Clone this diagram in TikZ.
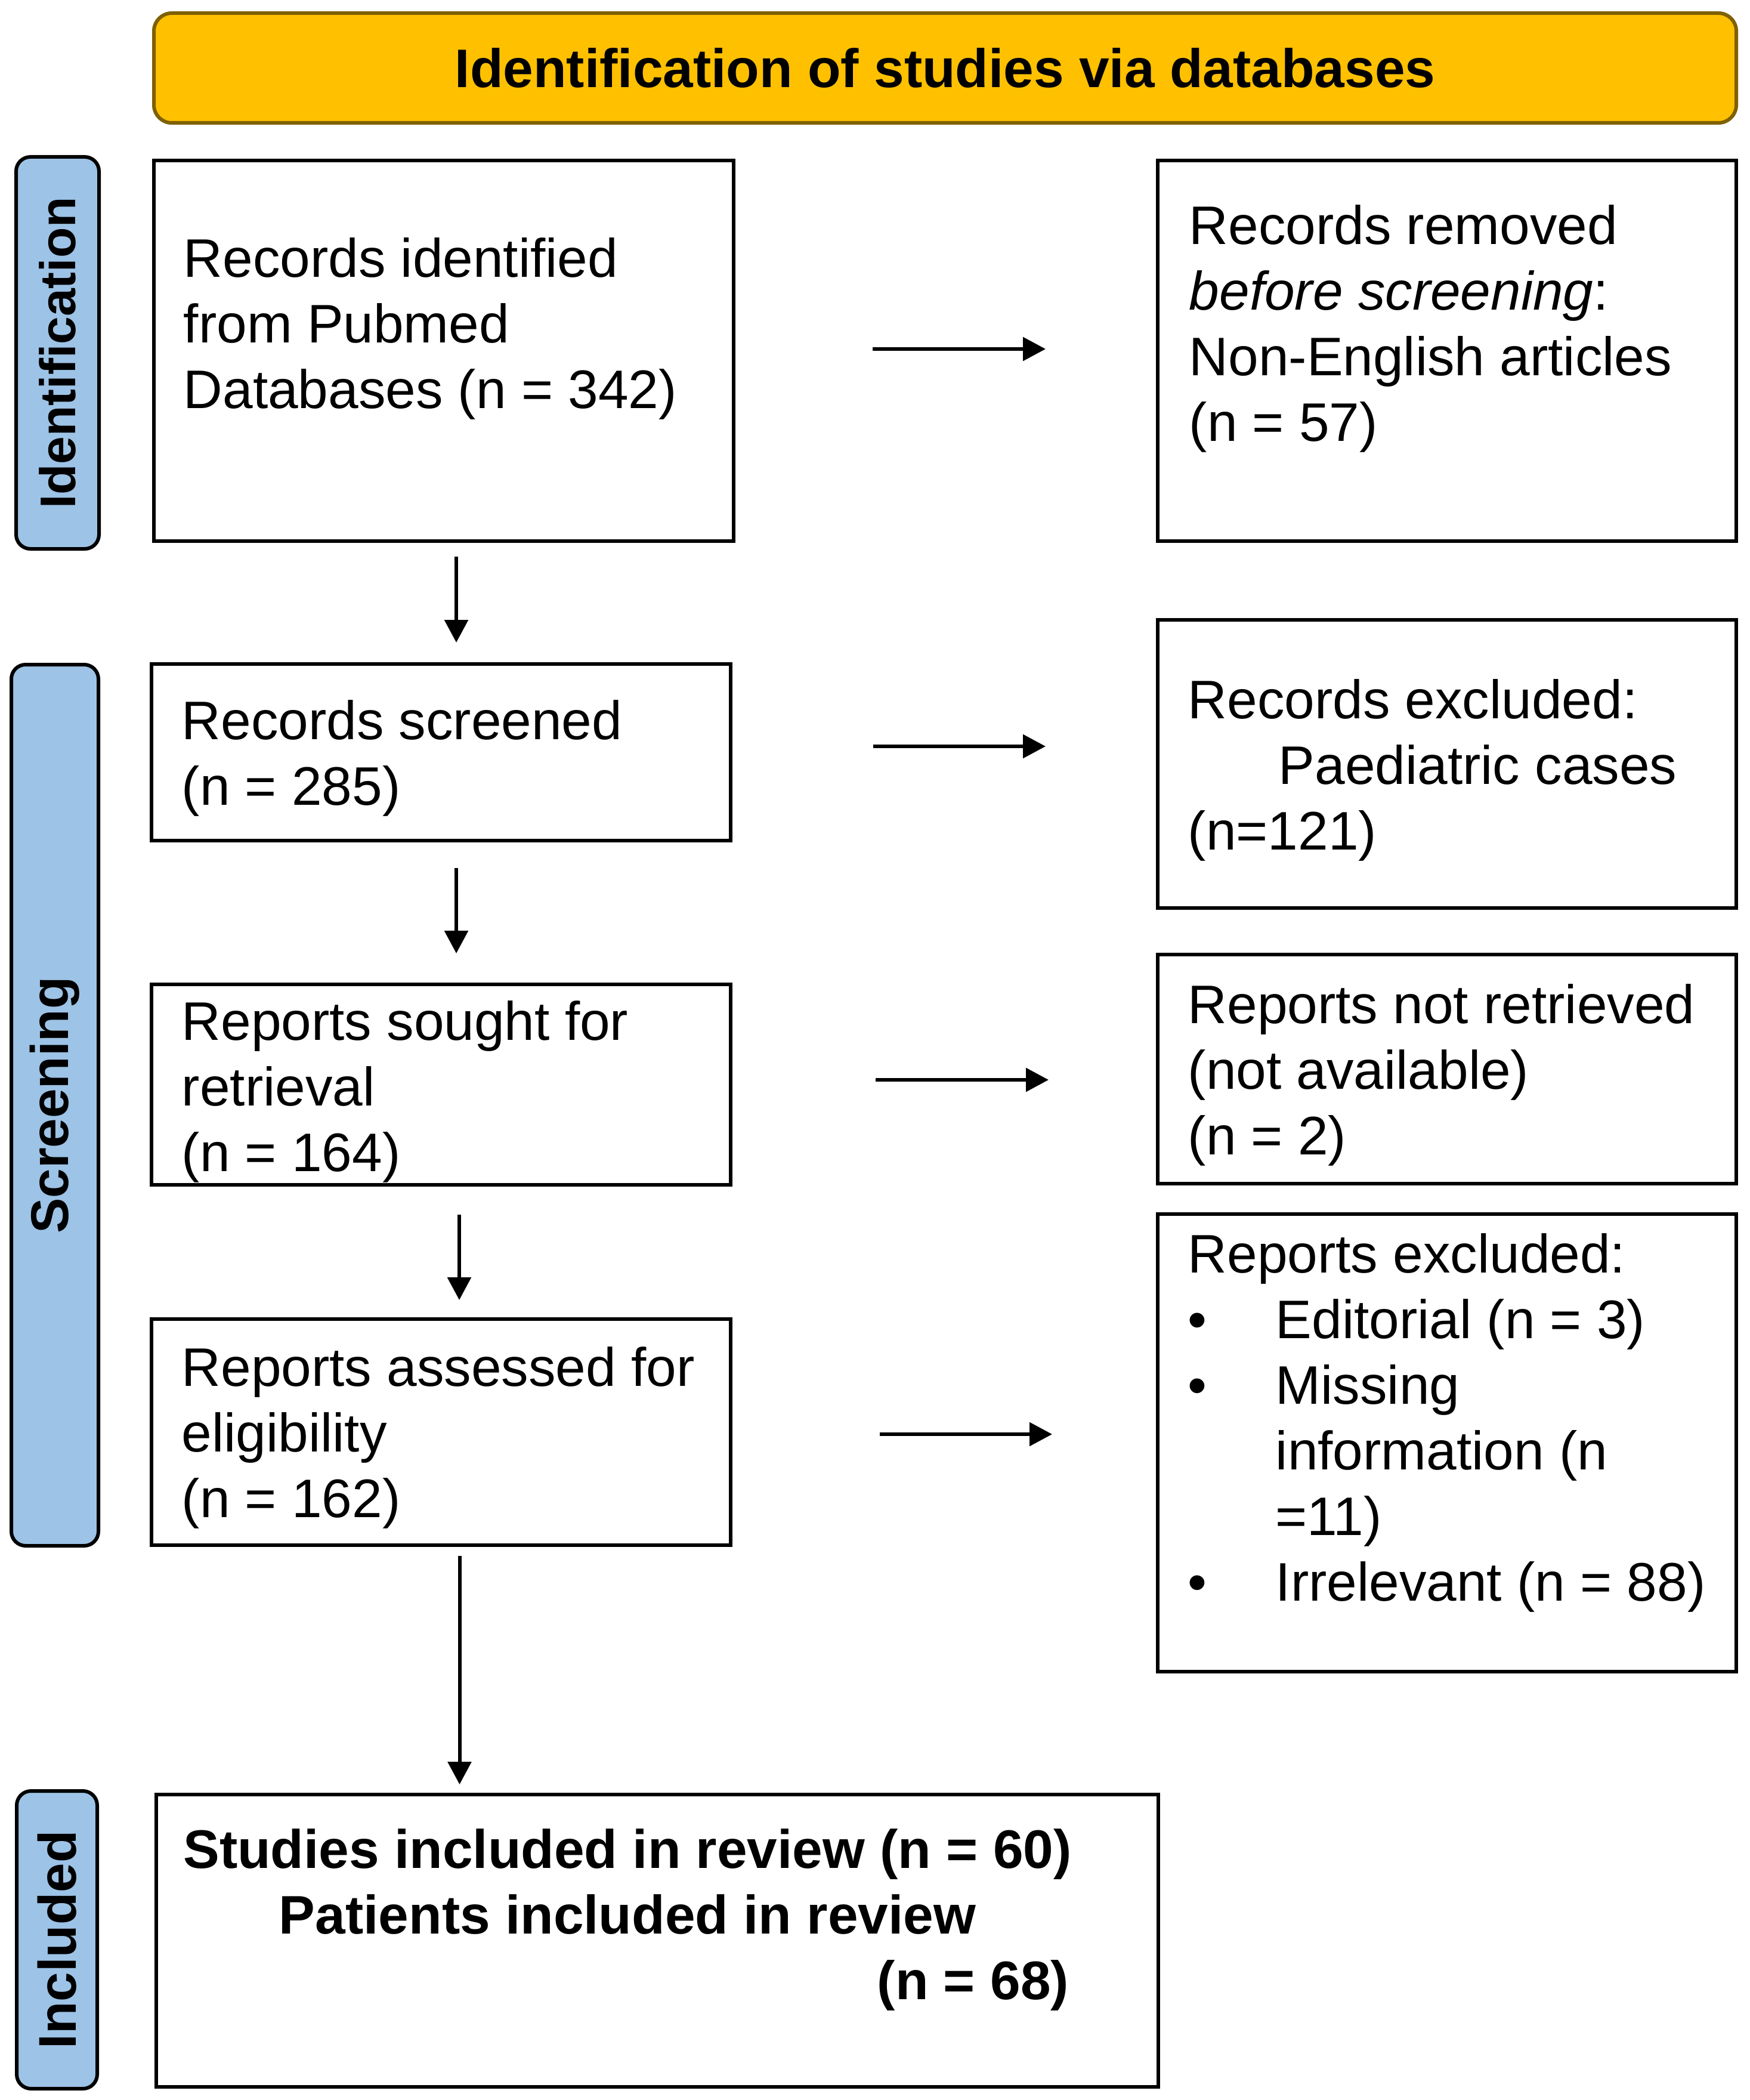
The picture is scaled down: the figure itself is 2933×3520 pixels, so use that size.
\documentclass[tikz,border=0pt]{standalone}
\usepackage{fontspec}
\setmainfont{Liberation Sans}
\usepackage{xcolor}
\usepackage{tikz}
\usetikzlibrary{arrows.meta,positioning,calc}
\definecolor{prismagold}{HTML}{FFC000}
\definecolor{prismagolddark}{HTML}{7F6000}
\definecolor{prismablue}{HTML}{9DC3E6}

\begin{document}
\begin{tikzpicture}[
        x=0.25pt, y=-0.25pt,
        stagebox/.style={
            draw=black,
            line width=1.5pt,
            inner sep=0pt,
            outer sep=0pt,
            anchor=north west
        },
        phase/.style={
            draw=black,
            fill=prismablue,
            line width=1.5pt,
            rounded corners=6pt,
            rotate=90,
            inner sep=0pt,
            outer sep=0pt,
            font=\fontsize{22.25pt}{26pt}\selectfont\bfseries
        },
        banner/.style={
            draw=prismagolddark,
            fill=prismagold,
            line width=1.5pt,
            rounded corners=7.5pt,
            inner sep=0pt,
            outer sep=0pt,
            font=\fontsize{22.75pt}{27.5pt}\selectfont\bfseries
        },
        boxtext/.style={
            anchor=north west,
            inner sep=0pt,
            align=left,
            font=\fontsize{22.75pt}{27.5pt}\selectfont
        },
        flow/.style={-{Triangle[length=9.5pt,width=9.75pt]}, line width=1.5pt, black}
    ]
        \useasboundingbox (0,0) rectangle (2933,3520);

        \node[banner, minimum width=663.25pt, minimum height=46pt] (title) at (1584.5,114) {Identification of studies via databases};

        \node[phase, minimum width=164.25pt, minimum height=34.75pt, font=\fontsize{21pt}{26pt}\selectfont\bfseries] (ident) at (96.5,591.5) {Identification};
        \node[phase, minimum width=369.25pt, minimum height=36.5pt] (screen) at (92,1852.5) {Screening};
        \node[phase, minimum width=124.75pt, minimum height=33.75pt] (incl) at (95.5,3251.5) {Included};

        \node[stagebox, minimum width=243pt, minimum height=159.5pt] (idrec) at (258,269) {};
        \node[boxtext] (idrec-t) at (307,398) {Records identified\\from Pubmed\\Databases (n = 342)};

        \node[stagebox, minimum width=242.5pt, minimum height=159.5pt] (removed) at (1941,269) {};
        \node[boxtext] (removed-t) at (1993,343) {Records removed\\\textit{before screening}:\\Non-English articles\\(n = 57)};

        \node[stagebox, minimum width=242.75pt, minimum height=74pt] (screened) at (254,1113) {};
        \node[boxtext] (screened-t) at (304,1173) {Records screened\\(n = 285)};

        \node[stagebox, minimum width=242.5pt, minimum height=120.75pt] (recexcl) at (1941,1039) {};
        \node[boxtext] (recexcl-t) at (1991,1138) {Records excluded:\\\hspace*{38pt}Paediatric cases\\(n=121)};

        \node[stagebox, minimum width=242.75pt, minimum height=84pt] (sought) at (254,1650) {};
        \node[boxtext] (sought-t) at (304,1677) {Reports sought for\\retrieval\\(n = 164)};

        \node[stagebox, minimum width=242.5pt, minimum height=96pt] (notretr) at (1941,1600) {};
        \node[boxtext] (notretr-t) at (1991,1649) {Reports not retrieved\\(not available)\\(n = 2)};

        \node[stagebox, minimum width=242.75pt, minimum height=94.75pt] (assessed) at (254,2211) {};
        \node[boxtext] (assessed-t) at (304,2257) {Reports assessed for\\eligibility\\(n = 162)};

        \node[stagebox, minimum width=242.5pt, minimum height=191.75pt] (repexcl) at (1941,2035) {};
        \node[boxtext] (repexcl-t) at (1991,2067) {Reports excluded:\\
            \makebox[36.75pt][l]{•}Editorial (n = 3)\\
            \makebox[36.75pt][l]{•}Missing\\
            \hspace*{36.75pt}information (n\\
            \hspace*{36.75pt}=11)\\
            \makebox[36.75pt][l]{•}Irrelevant (n = 88)};

        \node[stagebox, minimum width=420pt, minimum height=122.5pt] (included) at (262,3008) {};
        \node[boxtext, anchor=north, align=center,
              font=\fontsize{22.75pt}{27.5pt}\selectfont\bfseries] (included-t) at (1052,3065)
            {Studies included in review (n = 60)\\Patients included in review\\\makebox[370pt][r]{(n = 68)}};

        \draw[flow, shorten <=6.5pt, shorten >=9pt] ($(idrec.south)+(21,0)$) -- ($(idrec.south |- screened.north)+(21,0)$);
        \draw[flow, shorten <=11.5pt, shorten >=13pt] ($(screened.south)+(25.5,0)$) -- ($(screened.south |- sought.north)+(25.5,0)$);
        \draw[flow, shorten <=12.5pt, shorten >=8pt] ($(sought.south)+(30.5,0)$) -- ($(sought.south |- assessed.north)+(30.5,0)$);
        \draw[flow, shorten <=4.5pt, shorten >=4.25pt] ($(assessed.south)+(31,0)$) -- ($(assessed.south |- included.north)+(31,0)$);

        \draw[flow, shorten <=58.25pt, shorten >=47pt] ($(idrec.east)+(0,-3)$) -- ($(idrec.east -| removed.west)+(0,-3)$);
        \draw[flow, shorten <=59.75pt, shorten >=47pt] ($(screened.east)+(0,-10)$) -- ($(screened.east -| recexcl.west)+(0,-10)$);
        \draw[flow, shorten <=60.75pt, shorten >=45.75pt] ($(sought.east)+(0,-8)$) -- ($(sought.east -| notretr.west)+(0,-8)$);
        \draw[flow, shorten <=62.5pt, shorten >=44.25pt] ($(assessed.east)+(0,3.5)$) -- ($(assessed.east -| repexcl.west)+(0,3.5)$);
    \end{tikzpicture}
\end{document}
